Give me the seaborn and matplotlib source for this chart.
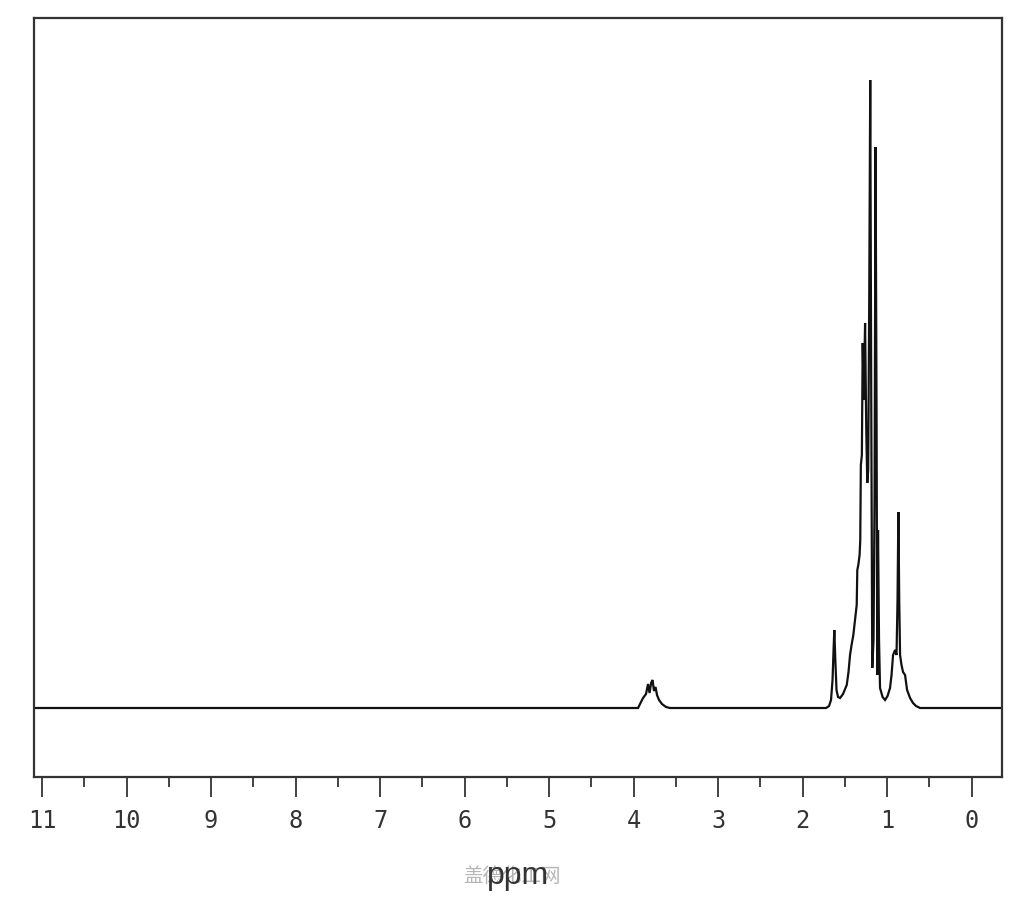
import matplotlib
matplotlib.use("Agg")
import matplotlib.pyplot as plt
from matplotlib.ticker import MultipleLocator
import seaborn as sns
import pandas as pd

# 1H NMR trace (ppm, relative intensity)
baseline_ppm = [11.095, 3.948]
baseline_int = [0, 0]

# multiplet around 3.8 ppm
m38_ppm = [3.948, 3.925, 3.889, 3.854, 3.830, 3.812, 3.794, 3.777, 3.759,
           3.741, 3.724, 3.700, 3.665, 3.617, 3.570]
m38_int = [0, 4, 10, 14, 24, 15, 25, 28, 17, 21, 13, 8, 4, 1, 0]

# main cluster 1.7 - 0.6 ppm
main_ppm = [1.724, 1.688, 1.665, 1.647, 1.635, 1.626, 1.614, 1.600, 1.582, 1.558,
            1.523, 1.479, 1.458, 1.440, 1.422, 1.401, 1.381, 1.361, 1.354, 1.342,
            1.327, 1.319, 1.312, 1.300, 1.290, 1.278, 1.262, 1.248, 1.236, 1.225,
            1.213, 1.201, 1.189, 1.177, 1.162, 1.150, 1.138, 1.126, 1.118, 1.109,
            1.097, 1.085, 1.055, 1.026, 0.996, 0.967, 0.949, 0.931, 0.907, 0.890,
            0.878, 0.868, 0.858, 0.848, 0.831, 0.813, 0.789, 0.765, 0.730, 0.695,
            0.659, 0.612]
main_int = [0, 2, 8, 28, 58, 78, 48, 18, 11, 10,
            14, 23, 36, 53, 63, 73, 88, 103, 138, 143,
            153, 168, 243, 253, 365, 308, 385, 278, 225, 238,
            408, 628, 308, 40, 68, 208, 561, 288, 33, 178,
            68, 20, 11, 8, 12, 20, 33, 53, 58, 53,
            108, 196, 108, 53, 43, 36, 33, 18, 10, 5,
            2, 0]

tail_ppm = [0.612, -0.358]
tail_int = [0, 0]

ppm = baseline_ppm + m38_ppm[1:] + main_ppm + tail_ppm[1:]
intensity = baseline_int + m38_int[1:] + main_int + tail_int[1:]
df = pd.DataFrame({"ppm": ppm, "intensity": intensity})

major_ticks = list(range(0, 12))
tick_labels = [str(t) for t in major_ticks]

sns.set_style("ticks")
fig = plt.figure(figsize=(10.24, 9.0), dpi=100)
ax = fig.add_axes([34 / 1024, 123 / 900, 968 / 1024, 759 / 900])

sns.lineplot(data=df, x="ppm", y="intensity", sort=False, estimator=None,
             color="#111111", linewidth=1.6, ax=ax)
for ln in ax.get_lines():
    ln.set_solid_joinstyle("miter")

ax.set_xlim(11.095, -0.358)
ax.set_ylim(-69, 690)
ax.set_yticks([])
ax.set_ylabel("")

ax.xaxis.set_major_locator(MultipleLocator(1))
ax.xaxis.set_minor_locator(MultipleLocator(0.5))
ax.set_xticks(major_ticks)
ax.set_xticklabels(tick_labels, family="DejaVu Sans Mono", fontsize=17, color="#333333")
ax.tick_params(axis="x", which="major", direction="out", length=14.4, width=1.2,
               color="#222222", pad=9)
ax.tick_params(axis="x", which="minor", direction="out", length=7.5, width=1.2,
               color="#222222")

for s in ax.spines.values():
    s.set_visible(True)
    s.set_linewidth(1.6)
    s.set_color("#333333")

ax.set_xlabel("ppm", fontsize=23, color="#333333", family="Liberation Sans")
ax.xaxis.set_label_coords(0.5, -0.13)
ax.xaxis.label.set_verticalalignment("center")

# faint watermark behind the axis label, as in the source image
fig.text(0.5, 1 - 876 / 900, "盖德化工网", color="#b5b5b5", fontsize=14,
         family=["Noto Sans CJK SC", "DejaVu Sans"], ha="center", va="center",
         zorder=-1)

fig.savefig("out.png", dpi=100, facecolor="white")
